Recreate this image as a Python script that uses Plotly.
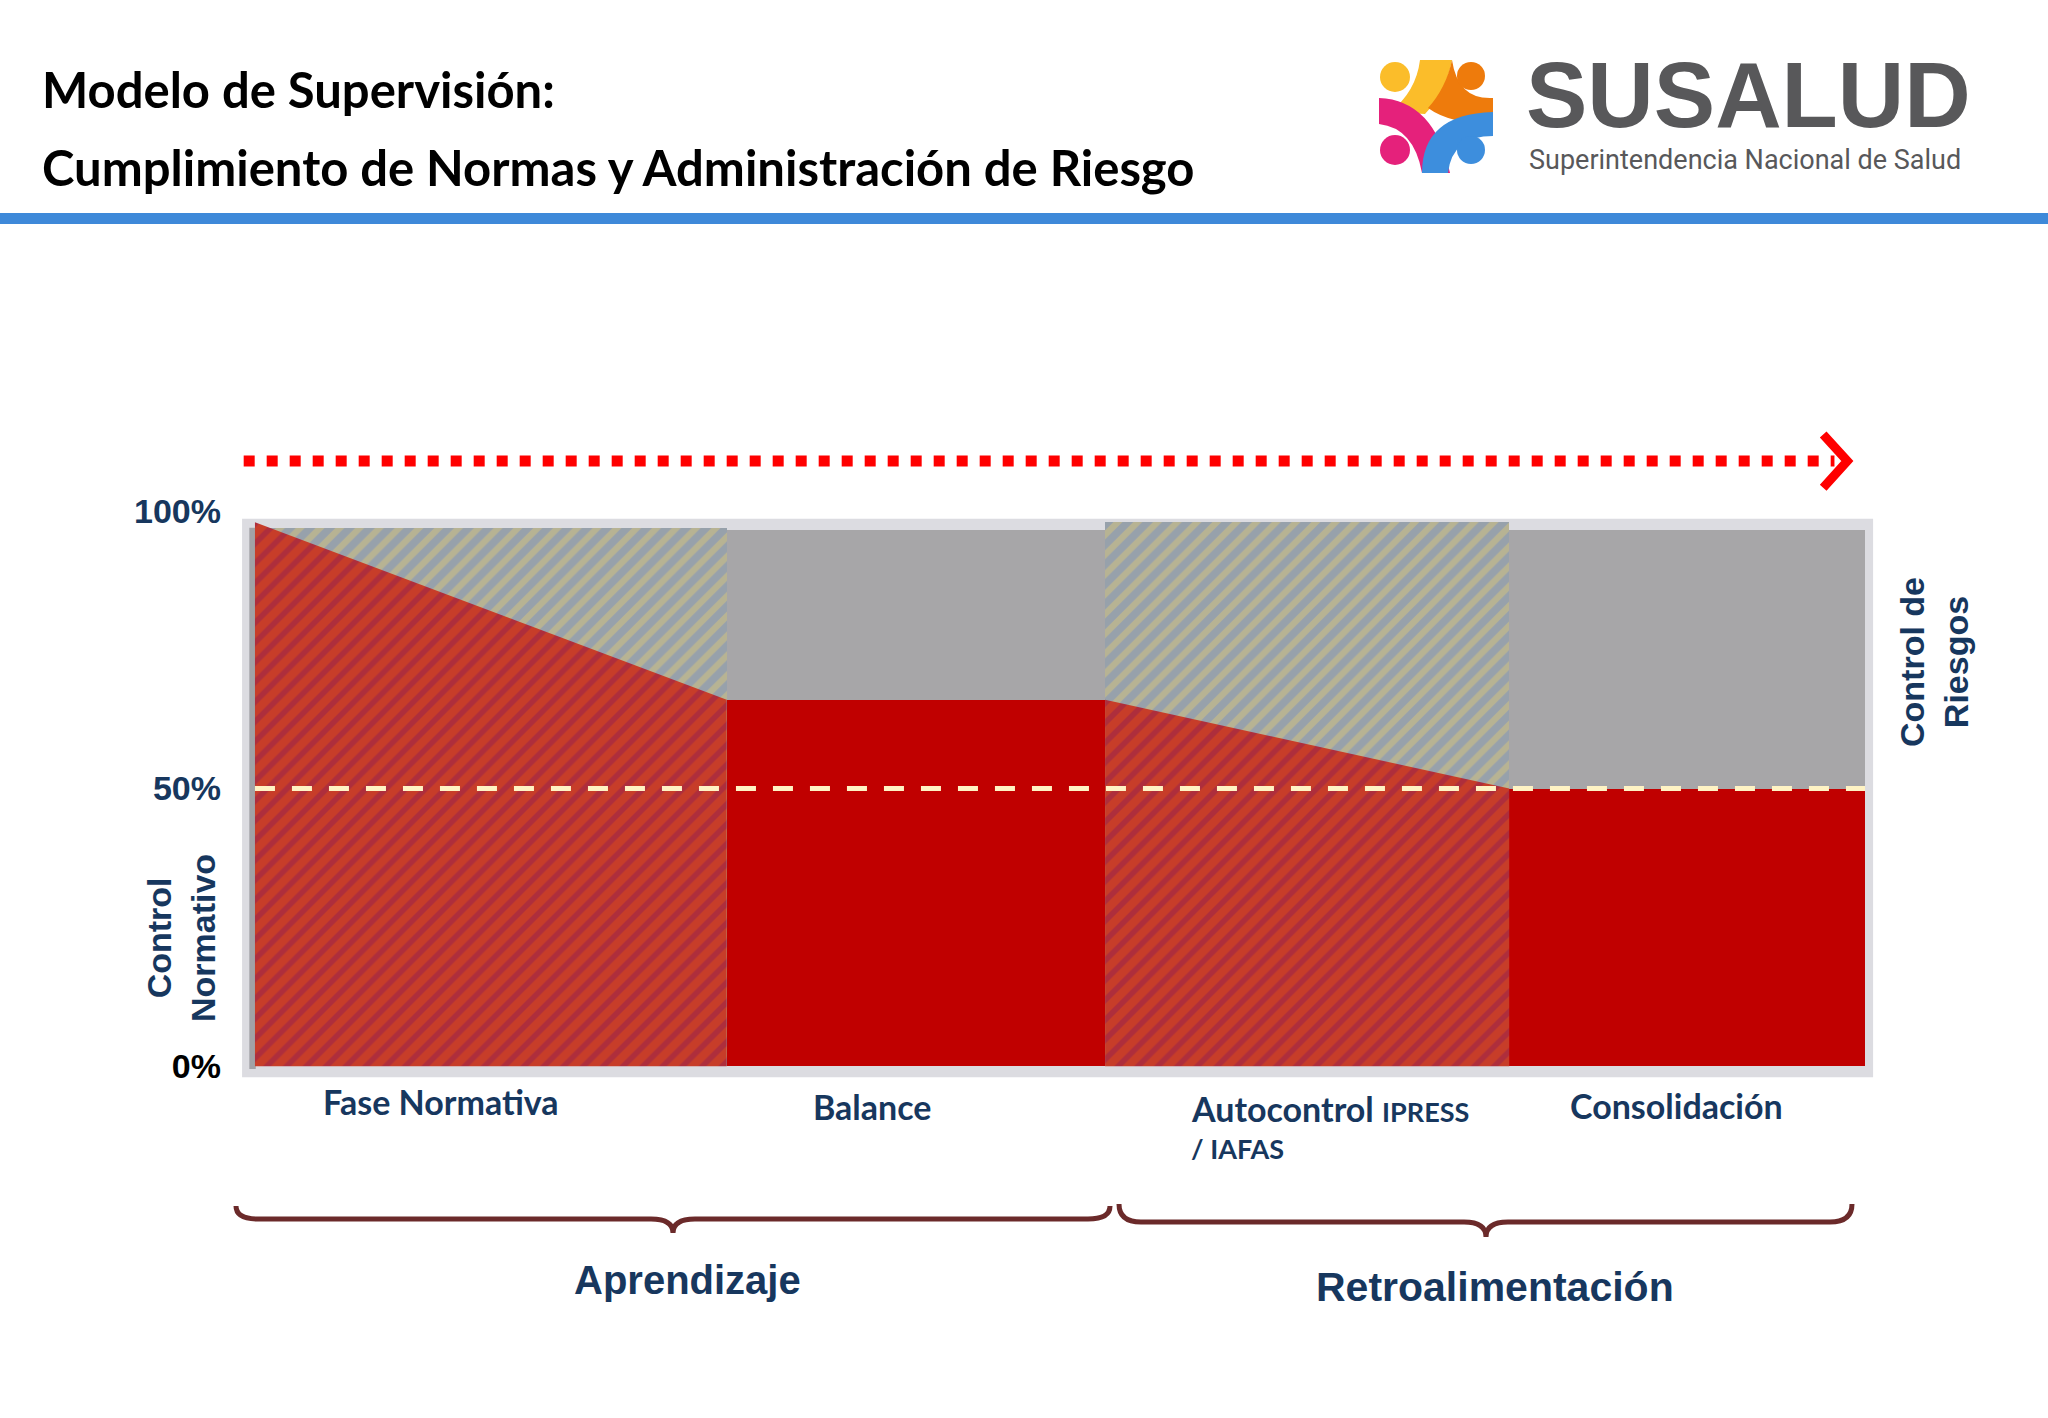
import plotly.graph_objects as go

# ---------------- data ----------------
fases = ["Fase Normativa", "Balance", "Autocontrol IPRESS / IAFAS", "Consolidación"]
fase_inicio = [0.0, 29.3, 52.8, 77.9]
fase_fin = [29.3, 52.8, 77.9, 100.0]
normativo_inicio = [98.0, 66.0, 66.0, 50.0]   # % control normativo at phase start
normativo_fin = [66.0, 66.0, 50.0, 50.0]      # % control normativo at phase end
techo = [97.0, 96.5, 98.0, 96.5]              # top of each phase block
transicion = [True, False, True, False]       # hatched (transition) phases
umbral = 50
y_ticks = [0, 50, 100]
y_tick_labels = ["0%", "50%", "100%"]
etapas = ["Aprendizaje", "Retroalimentación"]

# ---------------- style ----------------
W, H = 2048, 1418
NAVY = "#17375e"
ROJO = "#c00000"
GRIS = "#a7a6a8"
ARIAL = "Liberation Sans"
CALIBRI = "Lato"


def px(x):
    return x / W


def py(y):
    return 1 - y / H


fig = go.Figure()

for i in range(len(fases)):
    cx = (fase_inicio[i] + fase_fin[i]) / 2
    w = fase_fin[i] - fase_inicio[i]
    if transicion[i]:
        fig.add_bar(x=[cx], y=[techo[i]], width=[w], base=0,
                    marker=dict(color="#97a1ab", line_width=0,
                                pattern=dict(shape="/", bgcolor="#97a1ab", fgcolor="#d8c57c",
                                             size=14, solidity=0.45)),
                    hoverinfo="skip")
        fig.add_scatter(x=[fase_inicio[i], fase_inicio[i], fase_fin[i], fase_fin[i]],
                        y=[0, normativo_inicio[i], normativo_fin[i], 0],
                        fill="toself", mode="none", fillcolor="#ae2e3c",
                        fillpattern=dict(shape="/", bgcolor="#ae2e3c", fgcolor="#e04c16",
                                         size=14, solidity=0.6),
                        hoverinfo="skip")
    else:
        fig.add_bar(x=[cx], y=[techo[i]], width=[w], base=0,
                    marker=dict(color=GRIS, line_width=0), hoverinfo="skip")
        fig.add_bar(x=[cx], y=[normativo_inicio[i]], width=[w], base=0,
                    marker=dict(color=ROJO, line_width=0), hoverinfo="skip")

# 50% reference dashed line
fig.add_scatter(x=[fase_inicio[0], fase_fin[-1]], y=[umbral, umbral], mode="lines",
                line=dict(color="#fff3c4", width=5, dash="20px,17px"), hoverinfo="skip")

# red dotted progress arrow along the timeline (above 100%)
fig.add_scatter(x=[-0.7, 98.1], y=[109, 109], mode="lines", cliponaxis=False,
                line=dict(color="#ff0000", width=11, dash="11px,12px"), hoverinfo="skip")
fig.add_scatter(x=[97.4, 98.9, 97.4], y=[113.8, 109, 104.2], mode="lines", cliponaxis=False,
                line=dict(color="#ff0000", width=9, shape="linear"), hoverinfo="skip")

# ---------------- decorations ----------------
shapes = [
    # backdrop frame behind the blocks
    dict(type="rect", xref="x", yref="y", x0=-0.8, x1=100.5, y0=-2.0, y1=98.6,
         fillcolor="#dcdce1", line_width=0, layer="below"),
    dict(type="rect", xref="x", yref="y", x0=-0.35, x1=0.05, y0=-0.5, y1=techo[0],
         fillcolor="#a2a2a6", line_width=0, layer="below"),
    # blue header bar
    dict(type="rect", xref="paper", yref="paper", x0=0, x1=1, y0=py(224), y1=py(213),
         fillcolor="#3e89d9", line_width=0),
]


def brace(x0, x1, xm, ytip, yline, ypt, r=22):
    pts = [
        (x0, ytip), (x0, yline), (x0 + r, yline), (xm - r, yline), (xm, yline), (xm, ypt),
        (xm, yline), (xm + r, yline), (x1 - r, yline), (x1, yline), (x1, ytip)
    ]
    P = [(px(a), py(b)) for a, b in pts]
    return (f"M{P[0][0]},{P[0][1]} Q{P[1][0]},{P[1][1]} {P[2][0]},{P[2][1]} "
            f"L{P[3][0]},{P[3][1]} Q{P[4][0]},{P[4][1]} {P[5][0]},{P[5][1]} "
            f"Q{P[6][0]},{P[6][1]} {P[7][0]},{P[7][1]} L{P[8][0]},{P[8][1]} "
            f"Q{P[9][0]},{P[9][1]} {P[10][0]},{P[10][1]}")


shapes.append(dict(type="path", xref="paper", yref="paper", path=brace(236, 1110, 673, 1206, 1219, 1233),
                   line=dict(color="#6b2a2a", width=5)))
shapes.append(dict(type="path", xref="paper", yref="paper", path=brace(1119, 1852, 1486, 1204, 1222, 1237),
                   line=dict(color="#6b2a2a", width=5)))


# logo icon
def poly(pts_str, color):
    segs = []
    for tok in pts_str.split():
        if tok[0].isalpha():
            segs.append(tok[0])
            tok = tok[1:]
            if not tok:
                continue
        a, b = tok.split(",")
        segs.append(f"{px(float(a))},{py(float(b))}")
    return dict(type="path", xref="paper", yref="paper", path=" ".join(segs),
                fillcolor=color, line_width=0)


def circ(cx, cy, r, color):
    return dict(type="circle", xref="paper", yref="paper", x0=px(cx - r), x1=px(cx + r),
                y0=py(cy + r), y1=py(cy - r), fillcolor=color, line_width=0)


YEL, ORA, PIN, BLU = "#fbbd2a", "#ee7b0c", "#e5217b", "#3d8edd"
shapes += [
    poly("M1420,60 L1452,60 Q1446,92 1425,114 L1390,112 Q1416,92 1420,60 Z", YEL),
    circ(1395, 77, 15, YEL),
    poly("M1452,60 Q1458,100 1493,98 L1493,124 Q1450,124 1428,108 Q1446,88 1452,60 Z", ORA),
    circ(1471, 76, 14, ORA),
    poly("M1379,98 Q1434,100 1450,173 L1422,173 Q1414,128 1379,124 Z", PIN),
    circ(1395, 150, 15, PIN),
    poly("M1493,112 L1493,136 Q1452,136 1448,173 L1422,173 Q1422,114 1493,112 Z", BLU),
    circ(1471, 150, 14, BLU),
]

annotations = []


def txt(text, x, y, size, color, family, xanchor="left", yanchor="middle", angle=0, bold=True):
    annotations.append(dict(text=f"<b>{text}</b>" if bold else text, x=px(x), y=py(y),
                            xref="paper", yref="paper", xanchor=xanchor, yanchor=yanchor,
                            showarrow=False, textangle=angle,
                            font=dict(size=size, color=color, family=family)))


# titles
txt("Modelo de Supervisión:", 40, 89, 49, "#000000", CALIBRI)
txt("Cumplimiento de Normas y Administración de Riesgo", 40, 167, 49, "#000000", CALIBRI)

# logo text
txt("SUSALUD", 1524, 95, 92, "#58585a", ARIAL)
txt("Superintendencia Nacional de Salud", 1527, 160, 27, "#58585a", "Roboto", bold=False)

# phase labels
label_shift = [66, 84, 84, 59]
label_y = [1101, 1106, 1108, 1105]
fase_txt = [
    fases[0],
    fases[1],
    "Autocontrol <span style='font-size:27px'>IPRESS</span>",
    fases[3],
]
for i in range(len(fases)):
    annotations.append(dict(text=f"<b>{fase_txt[i]}</b>", x=fase_inicio[i], xref="x",
                            xshift=label_shift[i], y=py(label_y[i]), yref="paper",
                            xanchor="left", yanchor="middle", showarrow=False,
                            font=dict(size=34, color=NAVY, family=CALIBRI)))
annotations.append(dict(text="<b>/ IAFAS</b>", x=fase_inicio[2], xref="x", xshift=label_shift[2],
                        y=py(1148), yref="paper", xanchor="left", yanchor="middle", showarrow=False,
                        font=dict(size=27, color=NAVY, family=CALIBRI)))

# axis titles
txt("Control<br>Normativo", 181, 938, 34, NAVY, ARIAL, xanchor="center", angle=-90)
txt("Control de<br>Riesgos", 1934, 662, 34, NAVY, ARIAL, xanchor="center", angle=-90)

# stage labels
txt(etapas[0], 687, 1280, 40, NAVY, ARIAL, xanchor="center")
txt(etapas[1], 1495, 1287, 41, NAVY, ARIAL, xanchor="center")

tick_text = []
for v, t in zip(y_ticks, y_tick_labels):
    if v == 0:
        tick_text.append(f"<b><span style='color:#000000'>{t}</span></b>")
    else:
        tick_text.append(f"<b>{t}</b>")

fig.update_layout(
    width=W, height=H,
    margin=dict(l=0, r=0, t=0, b=0),
    paper_bgcolor="#ffffff", plot_bgcolor="rgba(0,0,0,0)",
    showlegend=False, barmode="overlay", bargap=0,
    xaxis=dict(domain=[px(230), px(1890)], range=[-1.55, 101.55], visible=False, fixedrange=True),
    yaxis=dict(domain=[py(1090), py(420)], range=[-4.3, 116.4], tickvals=y_ticks, ticktext=tick_text,
               showgrid=False, zeroline=False, showline=False, ticks="", ticklabelstandoff=8,
               tickfont=dict(size=34, color=NAVY, family=ARIAL), fixedrange=True),
    shapes=shapes,
    annotations=annotations,
)

fig.write_html("out.html")
